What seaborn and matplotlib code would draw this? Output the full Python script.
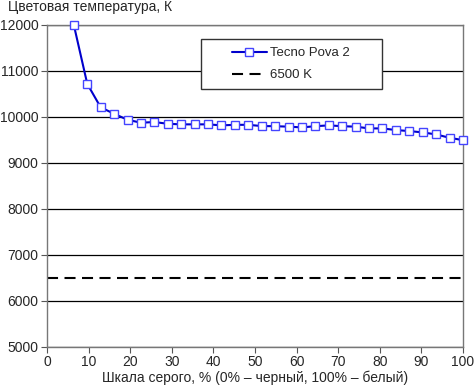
import matplotlib
matplotlib.use("Agg")
import matplotlib.pyplot as plt
from matplotlib.patches import Rectangle
import seaborn as sns
import pandas as pd

# --- DATOS ---
gray_steps = list(range(2, 32))  # niveles de 0..31
gray_pct = [k / 31 * 100 for k in gray_steps]
temp_k = [12000, 10720, 10210, 10070, 9940, 9876, 9890, 9853, 9840, 9840,
          9840, 9818, 9830, 9830, 9803, 9800, 9790, 9774, 9800, 9818,
          9800, 9790, 9752, 9752, 9716, 9694, 9665, 9621, 9548, 9497]
ref_x = [0, 100]
ref_temp = [6500, 6500]

x_ticks = list(range(0, 101, 10))
y_ticks = list(range(5000, 12001, 1000))

series_name = "Tecno Pova 2"
ref_name = "6500 K"

sns.set_style("white")
plt.rcParams["font.family"] = ["Liberation Sans", "DejaVu Sans"]
plt.rcParams["font.size"] = 10

df = pd.DataFrame({"x": gray_pct, "t": temp_k})
df_ref = pd.DataFrame({"x": ref_x, "t": ref_temp})

fig = plt.figure(figsize=(4.74, 3.87), dpi=100)
ax = fig.add_axes([47 / 474, 1 - 347 / 387, 416 / 474, 322 / 387])

ax.grid(axis="y", color="black", linewidth=0.9)
ax.set_axisbelow(True)

sns.lineplot(data=df, x="x", y="t", ax=ax, color="#0000cc", linewidth=1.5,
             marker="s", markersize=6, markerfacecolor="white",
             markeredgecolor="#4444ff", markeredgewidth=1.0, label=series_name,
             zorder=3, clip_on=False)
sns.lineplot(data=df_ref, x="x", y="t", ax=ax, color="black", linewidth=1.5,
             dashes=False, label=ref_name)
ax.lines[1].set_dashes([5.3, 3.1])

ax.set_xlim(0, 100)
ax.set_ylim(5000, 12000)
ax.set_xticks(x_ticks)
ax.set_yticks(y_ticks)
ax.tick_params(axis="both", direction="out", length=4, width=0.8, color="#555555",
               labelsize=10, pad=2, bottom=True, left=True)
for s in ax.spines.values():
    s.set_color("#777777")
    s.set_linewidth(1)

ax.set_xlabel("Шкала серого, % (0% – черный, 100% – белый)", fontsize=10, labelpad=1)
ax.set_ylabel("")
fig.text(8 / 474, 1 - 7 / 387, "Цветовая температура, К", fontsize=10,
         va="center", ha="left")

# marco de la leyenda
ax.add_patch(Rectangle((154 / 416, 1 - 64 / 322), 181 / 416, 50 / 322,
                       transform=ax.transAxes, facecolor="white",
                       edgecolor="#333333", linewidth=1, zorder=4))
leg = ax.legend(loc="center left", bbox_to_anchor=(185 / 416, 1 - 39.2 / 322),
                frameon=False, fontsize=9.5, handlelength=2.65,
                handletextpad=0.2, borderpad=0, borderaxespad=0,
                labelspacing=0.74)
leg.set_zorder(5)

fig.savefig("out.png", dpi=100)
